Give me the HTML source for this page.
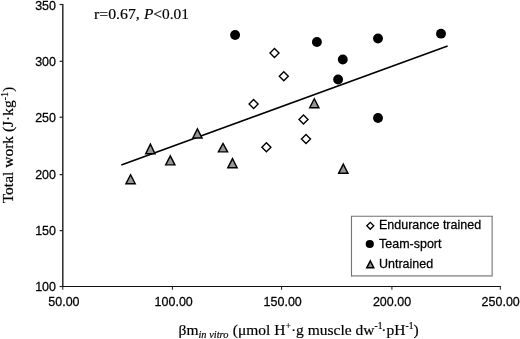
<!DOCTYPE html><html><head><meta charset="utf-8"><style>html,body{margin:0;padding:0;background:#fff}svg{display:block}text{fill:#000}.a{stroke:#000;stroke-width:0.25px}.t{stroke:#000;stroke-width:0.18px}.a{font-family:"Liberation Sans",Arial,sans-serif;font-size:12.5px}.t{font-family:"Liberation Serif","Times New Roman",serif;font-size:15.5px}</style></head><body>
<svg width="520" height="339" viewBox="0 0 520 339">
<rect width="520" height="339" fill="#fff"/>
<g fill="none">
<line x1="62.8" y1="4.0" x2="62.8" y2="287.0" stroke="#2a2a2a" stroke-width="1.5"/>
<line x1="62.8" y1="286.5" x2="500.8" y2="286.5" stroke="#111" stroke-width="1.15"/>
<line x1="59.599999999999994" y1="4.5" x2="62.8" y2="4.5" stroke="#222" stroke-width="1.2"/>
<line x1="59.599999999999994" y1="61.3" x2="62.8" y2="61.3" stroke="#222" stroke-width="1.2"/>
<line x1="59.599999999999994" y1="117.2" x2="62.8" y2="117.2" stroke="#222" stroke-width="1.2"/>
<line x1="59.599999999999994" y1="174.6" x2="62.8" y2="174.6" stroke="#222" stroke-width="1.2"/>
<line x1="59.599999999999994" y1="230.6" x2="62.8" y2="230.6" stroke="#222" stroke-width="1.2"/>
<line x1="59.599999999999994" y1="286.5" x2="62.8" y2="286.5" stroke="#222" stroke-width="1.2"/>
<line x1="62.8" y1="286.5" x2="62.8" y2="289.8" stroke="#222" stroke-width="1.05"/>
<line x1="172.4" y1="286.5" x2="172.4" y2="289.8" stroke="#222" stroke-width="1.05"/>
<line x1="281.6" y1="286.5" x2="281.6" y2="289.8" stroke="#222" stroke-width="1.05"/>
<line x1="391.9" y1="286.5" x2="391.9" y2="289.8" stroke="#222" stroke-width="1.05"/>
<line x1="500.3" y1="286.5" x2="500.3" y2="289.8" stroke="#222" stroke-width="1.05"/>
</g>
<text class="a" transform="translate(56,9.95) scale(1,1.08)" text-anchor="end">350</text>
<text class="a" transform="translate(56,65.65) scale(1,1.08)" text-anchor="end">300</text>
<text class="a" transform="translate(56,121.90) scale(1,1.08)" text-anchor="end">250</text>
<text class="a" transform="translate(56,179.25) scale(1,1.08)" text-anchor="end">200</text>
<text class="a" transform="translate(56,234.85) scale(1,1.08)" text-anchor="end">150</text>
<text class="a" transform="translate(56,291.25) scale(1,1.08)" text-anchor="end">100</text>
<text class="a" transform="translate(63.9,306.3) scale(1,1.08)" text-anchor="middle">50.00</text>
<text class="a" transform="translate(173.7,306.3) scale(1,1.08)" text-anchor="middle">100.00</text>
<text class="a" transform="translate(282.7,306.3) scale(1,1.08)" text-anchor="middle">150.00</text>
<text class="a" transform="translate(392.0,306.3) scale(1,1.08)" text-anchor="middle">200.00</text>
<text class="a" transform="translate(500.7,306.3) scale(1,1.08)" text-anchor="middle">250.00</text>
<line x1="121.3" y1="165.1" x2="447.6" y2="45.9" stroke="#000" stroke-width="1.65"/>
<circle cx="235.1" cy="35.05" r="4.95" fill="#000"/>
<circle cx="316.9" cy="42.05" r="4.95" fill="#000"/>
<circle cx="342.8" cy="59.45" r="4.95" fill="#000"/>
<circle cx="338.1" cy="79.45" r="4.95" fill="#000"/>
<circle cx="378" cy="38.55" r="4.95" fill="#000"/>
<circle cx="441" cy="33.65" r="4.95" fill="#000"/>
<circle cx="378" cy="118.05" r="4.95" fill="#000"/>
<path d="M270.0 53.0L274.5 48.5L279.0 53.0L274.5 57.5Z" fill="#fff" stroke="#000" stroke-width="1.4"/>
<path d="M279.3 76.2L283.8 71.7L288.3 76.2L283.8 80.7Z" fill="#fff" stroke="#000" stroke-width="1.4"/>
<path d="M249.1 104.1L253.6 99.6L258.1 104.1L253.6 108.6Z" fill="#fff" stroke="#000" stroke-width="1.4"/>
<path d="M299.0 119.4L303.5 114.9L308.0 119.4L303.5 123.9Z" fill="#fff" stroke="#000" stroke-width="1.4"/>
<path d="M301.5 139L306 134.5L310.5 139L306 143.5Z" fill="#fff" stroke="#000" stroke-width="1.4"/>
<path d="M261.9 147.2L266.4 142.7L270.9 147.2L266.4 151.7Z" fill="#fff" stroke="#000" stroke-width="1.4"/>
<path d="M126.0 183.65L130.6 174.75L135.2 183.65Z" fill="#969696" stroke="#000" stroke-width="1.45" stroke-linejoin="miter"/>
<path d="M145.8 153.65L150.4 144.15L155.0 153.65Z" fill="#969696" stroke="#000" stroke-width="1.45" stroke-linejoin="miter"/>
<path d="M165.70000000000002 164.85L170.3 155.95L174.9 164.85Z" fill="#969696" stroke="#000" stroke-width="1.45" stroke-linejoin="miter"/>
<path d="M192.8 138.05L197.4 128.85L202.0 138.05Z" fill="#969696" stroke="#000" stroke-width="1.45" stroke-linejoin="miter"/>
<path d="M218.4 151.85L223 143.45L227.6 151.85Z" fill="#969696" stroke="#000" stroke-width="1.45" stroke-linejoin="miter"/>
<path d="M227.9 167.65L232.5 158.55L237.1 167.65Z" fill="#969696" stroke="#000" stroke-width="1.45" stroke-linejoin="miter"/>
<path d="M309.7 107.75L314.3 98.75L318.90000000000003 107.75Z" fill="#969696" stroke="#000" stroke-width="1.45" stroke-linejoin="miter"/>
<path d="M338.7 173.15L343.3 164.05L347.90000000000003 173.15Z" fill="#969696" stroke="#000" stroke-width="1.45" stroke-linejoin="miter"/>
<rect x="351.5" y="216.3" width="141" height="59.7" fill="#fff" stroke="none"/>
<path d="M492.2 216.3V275.8H351.5" fill="none" stroke="#a2a2a2" stroke-width="1.7"/>
<path d="M351.5 276.4V216.3H492.9" fill="none" stroke="#727272" stroke-width="1.1"/>
<path d="M366.85 225.8L370.3 222.35000000000002L373.75 225.8L370.3 229.25Z" fill="#fff" stroke="#000" stroke-width="1.35"/>
<circle cx="369.8" cy="244" r="4.1" fill="#000"/>
<path d="M366.85 267.7L370.3 260.90000000000003L373.75 267.7Z" fill="#919191" stroke="#000" stroke-width="1.5"/>
<text class="a" transform="translate(379.0,229.4) scale(1,1.08)" style="font-size:12.5px">Endurance trained</text>
<text class="a" transform="translate(379.0,248.4) scale(1,1.08)" style="font-size:12.5px">Team-sport</text>
<text class="a" transform="translate(379.0,267.6) scale(1,1.08)" style="font-size:12.5px">Untrained</text>
<text class="t" x="94.0" y="19.2" textLength="45.8" lengthAdjust="spacingAndGlyphs">r=0.67,</text>
<text class="t" x="143.9" y="19.2" textLength="45.0" lengthAdjust="spacingAndGlyphs"><tspan font-style="italic">P</tspan>&lt;0.01</text>
<text class="t" transform="translate(13.3,203.3) rotate(-90)" textLength="116.6" lengthAdjust="spacingAndGlyphs">Total work (J·kg<tspan dy="-5.5" font-size="10">-1</tspan><tspan dy="5.5">)</tspan></text>
<text class="t" x="178.5" y="334.6" style="font-size:15.5px">βm<tspan dy="3.2" font-size="10.4" font-style="italic">in vitro</tspan><tspan dy="-3.2" dx="0.6"> (μmol H</tspan><tspan dy="-5.5" font-size="9.6">+</tspan><tspan dy="5.5">·g muscle dw</tspan><tspan dy="-5.5" font-size="9.6">-1</tspan><tspan dy="5.5" dx="-1.1">·pH</tspan><tspan dy="-5.5" font-size="9.6">-1</tspan><tspan dy="5.5">)</tspan></text>
</svg></body></html>
